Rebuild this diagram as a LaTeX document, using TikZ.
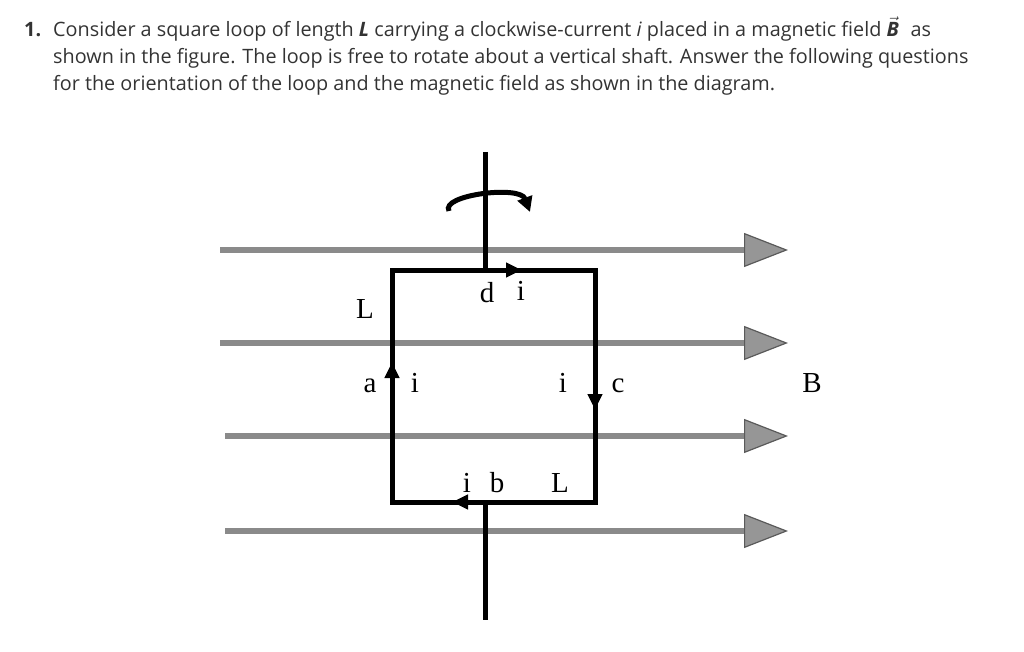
\documentclass[tikz,border=0pt]{standalone}
\usepackage{fontspec}
\setmainfont{Open Sans}
\newfontfamily\serif{Liberation Serif}
\usetikzlibrary{arrows.meta}
\definecolor{fld}{HTML}{8A8A8A}
\definecolor{fldhead}{HTML}{969696}
\definecolor{fldedge}{HTML}{5A5A5A}
\definecolor{txt}{HTML}{333333}
\tikzset{
  field/.style={line width=5.5pt,color=fld,-{Triangle[length=44pt,width=34pt,fill=fldhead,color=fldedge,line width=1.2pt]}},
  wire/.style={line width=5pt,black},
  lbl/.style={font=\serif\fontsize{29}{29}\selectfont,inner sep=0pt,anchor=base},
  para/.style={font=\fontsize{19.8}{19.8}\selectfont,text=txt,inner sep=0pt,anchor=base west},
  cur/.style={-{Triangle[length=16pt,width=14pt]},line width=5pt,black}
}
\begin{document}
\begin{tikzpicture}[x=1pt,y=-1pt]
\useasboundingbox (0,0) rectangle (1024,652);
\node[para] (n1) at (24,37) {\textbf{1.}};
\node[para] (t1) at (53,37) {Consider a square loop of length \textit{\textbf{L}} carrying a clockwise-current \textit{i} placed in a magnetic field \(\vec{\mbox{\textit{\textbf{B}}}}\)\,\, as};
\node[para] (t2) at (53,64) {shown in the figure. The loop is free to rotate about a vertical shaft. Answer the following questions};
\node[para] (t3) at (53,91) {for the orientation of the loop and the magnetic field as shown in the diagram.};
% field lines
\coordinate (f1a) at (220,250); \coordinate (f1b) at (788,250);
\coordinate (f2a) at (220,343); \coordinate (f2b) at (788,343);
\coordinate (f3a) at (225,436); \coordinate (f3b) at (788,436);
\coordinate (f4a) at (225,531); \coordinate (f4b) at (788,531);
\draw[field] (f1a) -- (f1b);
\draw[field] (f2a) -- (f2b);
\draw[field] (f3a) -- (f3b);
\draw[field] (f4a) -- (f4b);
% loop
\coordinate (tl) at (392,270); \coordinate (tr) at (595,270);
\coordinate (br) at (595,502); \coordinate (bl) at (392,502);
\draw[wire,line join=miter] (tl) -- (tr) -- (br) -- (bl) -- cycle;
% shaft
\coordinate (s1) at (485,152); \coordinate (s2) at (485,270);
\coordinate (s3) at (485,502); \coordinate (s4) at (485,620);
\draw[wire] (s1) -- (s2);
\draw[wire] (s3) -- (s4);
% rotation arrow
\coordinate (r0) at (449,211);
\draw[line width=5pt,-{Triangle[length=15pt,width=15pt]}] (r0) .. controls (440,195) and (520,185) .. (530,212);
% current arrows
\draw[cur] (495,270) -- (522,270);
\draw[cur] (392,385) -- (392,362);
\draw[cur] (595,385) -- (595,410);
\draw[cur] (480,502) -- (452,502);
% labels
\node[lbl] (lL) at (365,318) {L};
\node[lbl] (ld) at (487,302) {d};
\node[lbl] (li1) at (521,300) {i};
\node[lbl] (la) at (370,392) {a};
\node[lbl] (li2) at (415,392) {i};
\node[lbl] (li3) at (563,392) {i};
\node[lbl] (lc) at (618,392) {c};
\node[lbl] (li4) at (467,492) {i};
\node[lbl] (lb) at (497,492) {b};
\node[lbl] (lL2) at (560,492) {L};
\node[lbl] (lB) at (812,392) {B};
\end{tikzpicture}
\end{document}
